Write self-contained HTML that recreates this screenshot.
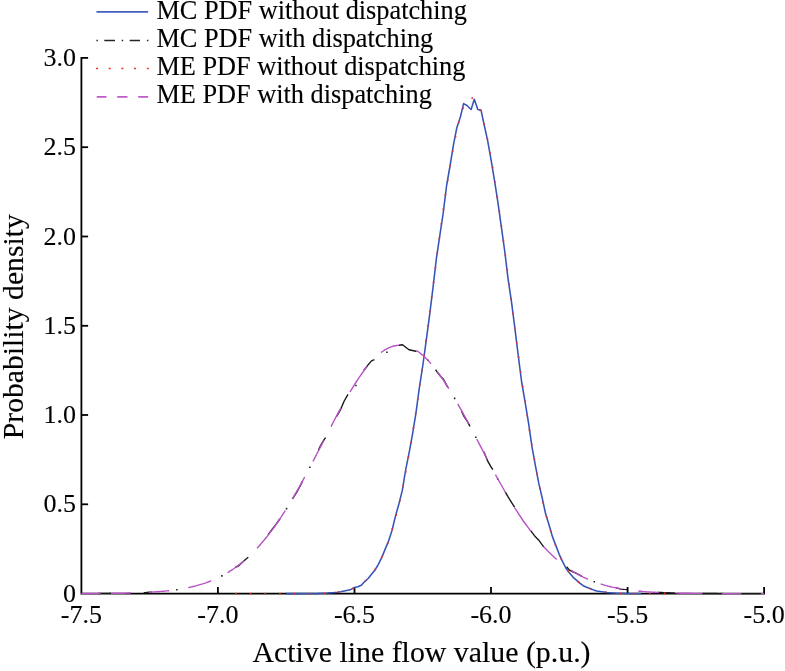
<!DOCTYPE html>
<html lang="en"><head><meta charset="utf-8"><title>PDF of active line flow</title>
<style>html,body{margin:0;padding:0;background:#fff}svg{display:block}</style></head>
<body>
<svg width="785" height="671" viewBox="0 0 785 671" style="display:block">
<rect width="785" height="671" fill="#fff"/>
<g stroke="#000" stroke-width="1.8" fill="none">
<path d="M81.4 57.0 V593.6 H765.0"/>
<path d="M81.4 504.3 H88.1"/>
<path d="M81.4 415.0 H88.1"/>
<path d="M81.4 325.8 H88.1"/>
<path d="M81.4 236.5 H88.1"/>
<path d="M81.4 147.2 H88.1"/>
<path d="M81.4 57.9 H88.1"/>
<path d="M217.9 593.6 V587.0"/>
<path d="M354.5 593.6 V587.0"/>
<path d="M491.0 593.6 V587.0"/>
<path d="M627.6 593.6 V587.0"/>
<path d="M764.1 593.6 V587.0"/>
</g>
<g fill="none" stroke-width="1.7" stroke-linejoin="round">
<path d="M286.2 593.6 L289.6 593.6 L293.0 593.6 L296.5 593.6 L299.9 593.6 L303.3 593.5 L306.7 593.5 L310.1 593.6 L313.5 593.4 L316.9 593.4 L320.3 593.3 L323.8 593.2 L327.2 593.1 L330.6 592.7 L334.0 592.5 L337.4 592.2 L340.8 591.8 L344.2 591.1 L347.7 590.3 L351.1 589.4 L354.5 587.4 L357.9 586.8 L361.3 585.3 L364.7 581.6 L368.1 578.5 L371.5 574.3 L375.0 570.0 L378.4 564.3 L381.8 557.4 L385.2 549.1 L388.6 541.0 L392.0 530.5 L395.4 516.4 L398.9 504.0 L402.3 490.4 L405.7 469.6 L409.1 452.8 L412.5 434.3 L415.9 413.4 L419.3 388.1 L422.8 365.5 L426.2 340.7 L429.6 315.2 L433.0 287.6 L436.4 258.3 L439.8 235.7 L443.2 213.2 L446.6 185.5 L450.1 165.5 L453.5 144.6 L456.9 127.4 L460.3 117.3 L463.6 103.6 L467.0 105.5 L471.1 109.5 L474.3 99.3 L477.8 109.5 L481.0 110.0 L484.2 125.1 L487.6 140.3 L491.0 159.4 L494.4 179.9 L497.8 201.6 L501.3 226.6 L504.7 251.0 L508.1 279.1 L511.5 301.8 L514.9 328.4 L518.3 356.0 L521.7 382.5 L525.2 402.6 L528.6 423.4 L532.0 446.8 L535.4 465.7 L538.8 483.4 L542.2 498.0 L545.6 513.8 L549.0 524.7 L552.5 536.9 L555.9 545.6 L559.3 554.6 L562.7 561.9 L566.1 568.5 L569.5 573.1 L572.9 577.1 L576.4 580.1 L579.8 583.1 L583.2 585.7 L586.6 587.2 L590.0 588.5 L593.4 589.9 L596.8 590.9 L600.3 591.6 L603.7 591.9 L607.1 592.4 L610.5 592.8 L613.9 592.9 L617.3 593.2 L620.7 593.3 L624.1 593.3 L627.6 593.4 L631.0 593.5 L634.4 593.5 L637.8 593.5 L641.2 593.6" stroke="#3454b8" stroke-width="1.55"/>
<path d="M98.0 593.5 L98.5 593.5 L101.9 593.4 L105.3 593.4 L108.7 593.4 L111.0 593.3 M143.7 592.6 L146.3 592.5 L149.7 592.2 L152.0 592.1 M235.2 567.3 L238.4 566.0 L241.8 562.7 L245.2 559.8 L248.3 557.3 M268.0 534.9 L269.1 533.4 L272.6 528.6 L276.0 524.4 L279.4 519.5 L280.0 518.8 M292.5 499.0 L293.0 498.1 L296.5 492.7 L299.9 486.5 L302.6 481.3 M318.5 450.1 L320.3 446.0 L323.8 440.1 L325.6 437.6 M336.4 416.7 L337.4 415.1 L340.8 409.1 L344.2 401.0 L347.7 394.9 L348.0 394.4 M363.7 370.2 L364.7 369.1 L368.1 364.9 L371.5 360.9 L374.4 359.7 M398.9 345.3 L399.1 345.3 L402.5 344.8 L409.0 349.7 L415.9 351.2 L416.5 351.5 M435.6 369.6 L436.4 371.0 L439.8 375.4 L443.2 378.9 L446.6 385.1 L447.8 387.3 M461.5 411.2 L463.7 415.8 L467.1 421.0 L470.0 426.4 M483.8 451.9 L484.2 452.4 L487.6 460.9 L491.0 466.9 L492.8 469.7 M505.4 492.1 L508.1 496.8 L511.5 502.4 L514.7 507.4 M530.8 530.9 L532.0 532.3 L535.4 536.8 L538.8 540.2 L542.2 544.9 L543.7 546.7 M566.6 566.8 L569.5 570.1 L572.9 571.8 L576.4 573.4 L579.8 575.2 L581.8 576.3 M616.0 587.9 L617.3 588.1 L620.7 589.1 L624.1 589.4 L627.2 589.6 M657.7 592.4 L658.3 592.4 L661.7 592.5 L665.1 592.9 L668.5 592.8 L671.9 593.0 L674.9 593.0 M702.4 593.4 L702.7 593.5 L706.1 593.4 L709.5 593.5 L712.9 593.5 L716.3 593.5 L719.7 593.6 L721.9 593.5 M741.4 593.6 L743.6 593.6 L747.0 593.6 L750.4 593.6 L753.9 593.6 L757.3 593.6 L760.7 593.6 L760.9 593.6" stroke="#1a1a1a" stroke-width="1.4"/>
<path d="M176.1 589.7 h1.5 M221.1 575.9 h1.5 M285.8 508.6 h1.5 M309.1 467.3 h1.5 M355.2 385.5 h1.5 M386.2 352.2 h1.5 M427.1 360.3 h1.5 M453.9 398.4 h1.5 M475.1 437.3 h1.5 M497.2 479.2 h1.5 M593.5 581.8 h1.5" stroke="#1a1a1a" stroke-width="1.6"/>
<path d="M235.0 593.6 L236.7 593.6 L238.4 593.6 L240.1 593.6 L241.8 593.6 L243.5 593.6 L245.2 593.6 L247.0 593.6 L248.7 593.6 L250.4 593.6 L252.1 593.6 L253.8 593.6 L255.5 593.6 L257.2 593.6 L258.9 593.6 L260.6 593.6 L262.3 593.6 L264.0 593.6 L265.7 593.6 L267.4 593.6 L269.1 593.6 L270.8 593.6 L272.6 593.6 L274.3 593.6 L276.0 593.6 L277.7 593.6 L279.4 593.6 L281.1 593.6 L282.8 593.6 L284.5 593.6 L286.2 593.6 L287.9 593.6 L289.6 593.6 L291.3 593.6 L293.0 593.6 L294.7 593.6 L296.5 593.6 L298.2 593.6 L299.9 593.6 L301.6 593.6 L303.3 593.6 L305.0 593.5 L306.7 593.5 L308.4 593.5 L310.1 593.5 L311.8 593.5 L313.5 593.5 L315.2 593.4 L316.9 593.4 L318.6 593.4 L320.3 593.3 L322.1 593.3 L323.8 593.2 L325.5 593.1 L327.2 593.0 L328.9 593.0 L330.6 592.8 L332.3 592.7 L334.0 592.6 L335.7 592.4 L337.4 592.2 L339.1 592.0 L340.8 591.7 L342.5 591.4 L344.2 591.1 L345.9 590.7 L347.7 590.3 L349.4 589.8 L351.1 589.2 L352.8 588.6 L354.5 587.9 L356.2 587.1 L357.9 586.2 L359.6 585.3 L361.3 584.2 L363.0 582.9 L364.7 581.6 L366.4 580.1 L368.1 578.4 L369.8 576.6 L371.5 574.5 L373.3 572.3 L375.0 569.8 L376.7 567.2 L378.4 564.2 L380.1 561.1 L381.8 557.6 L383.5 553.9 L385.2 549.8 L386.9 545.4 L388.6 540.7 L390.3 535.6 L392.0 530.2 L393.7 524.4 L395.4 518.2 L397.1 511.6 L398.9 504.6 L400.6 497.2 L402.3 489.3 L404.0 481.1 L405.7 472.4 L407.4 463.3 L409.1 453.8 L410.8 443.8 L412.5 433.5 L414.2 422.8 L415.9 411.7 L417.6 400.3 L419.3 388.5 L421.0 376.5 L422.8 364.2 L424.5 351.6 L426.2 338.8 L427.9 325.9 L429.6 312.9 L431.3 299.8 L433.0 286.6 L434.7 273.5 L436.4 260.5 L438.1 247.6 L439.8 234.9 L441.5 222.4 L443.2 210.2 L444.9 198.4 L446.6 187.0 L448.4 176.0 L450.1 165.6 L451.8 155.8 L453.5 146.6 L455.2 138.0 L456.9 130.2 L458.6 123.2 L460.3 116.9 L462.0 111.5 L463.7 107.0 L465.4 103.3 L467.1 100.6 L468.8 98.8 L470.5 98.0 L472.2 98.1 L474.0 99.1 L475.7 101.1 L477.4 104.0 L479.1 107.8 L480.8 112.5 L482.5 118.1 L484.2 124.5 L485.9 131.7 L487.6 139.7 L489.3 148.3 L491.0 157.7 L492.7 167.6 L494.4 178.2 L496.1 189.2 L497.8 200.7 L499.6 212.6 L501.3 224.9 L503.0 237.4 L504.7 250.1 L506.4 263.1 L508.1 276.1 L509.8 289.3 L511.5 302.4 L513.2 315.5 L514.9 328.5 L516.6 341.4 L518.3 354.1 L520.0 366.7 L521.7 378.9 L523.4 390.9 L525.2 402.6 L526.9 414.0 L528.6 425.0 L530.3 435.6 L532.0 445.9 L533.7 455.7 L535.4 465.1 L537.1 474.2 L538.8 482.7 L540.5 490.9 L542.2 498.7 L543.9 506.0 L545.6 512.9 L547.3 519.5 L549.0 525.6 L550.8 531.3 L552.5 536.7 L554.2 541.7 L555.9 546.3 L557.6 550.6 L559.3 554.6 L561.0 558.3 L562.7 561.7 L564.4 564.9 L566.1 567.7 L567.8 570.4 L569.5 572.8 L571.2 574.9 L572.9 576.9 L574.7 578.7 L576.4 580.4 L578.1 581.9 L579.8 583.2 L581.5 584.4 L583.2 585.5 L584.9 586.4 L586.6 587.3 L588.3 588.1 L590.0 588.7 L591.7 589.4 L593.4 589.9 L595.1 590.4 L596.8 590.8 L598.5 591.2 L600.3 591.5 L602.0 591.8 L603.7 592.0 L605.4 592.2 L607.1 592.4 L608.8 592.6 L610.5 592.7 L612.2 592.9 L613.9 593.0 L615.6 593.1 L617.3 593.1 L619.0 593.2 L620.7 593.3 L622.4 593.3 L624.1 593.4 L625.9 593.4 L627.6 593.4 L629.3 593.5 L631.0 593.5 L632.7 593.5 L634.4 593.5 L636.1 593.5 L637.8 593.5 L639.5 593.6 L641.2 593.6 L642.9 593.6 L644.6 593.6 L646.3 593.6 L648.0 593.6 L649.7 593.6 L651.5 593.6 L653.2 593.6 L654.9 593.6 L656.6 593.6 L658.3 593.6 L660.0 593.6 L661.7 593.6 L663.4 593.6 L665.1 593.6 L666.8 593.6 L668.5 593.6 L670.2 593.6 L671.9 593.6" stroke="#f03028" stroke-dasharray="1.6 13.13"/>
<path d="M81.4 593.5 L83.1 593.5 L84.8 593.5 L86.5 593.5 L88.2 593.5 L89.9 593.5 L91.6 593.5 L93.3 593.5 L95.1 593.5 L96.8 593.5 L98.5 593.5 L100.2 593.5 L100.6 593.5 M111.0 593.4 L112.1 593.3 L113.8 593.3 L115.5 593.3 L117.2 593.3 L118.9 593.3 L120.7 593.2 L122.4 593.2 L124.1 593.2 L125.8 593.1 L127.5 593.1 L129.2 593.0 L130.9 593.0 L131.0 593.0 M148.8 592.3 L149.7 592.2 L151.4 592.1 L153.1 592.0 L154.8 591.9 L156.5 591.8 L158.2 591.7 L159.9 591.5 L161.6 591.4 L163.3 591.2 L165.0 591.1 L166.7 590.9 L168.4 590.7 L169.2 590.6 M188.3 587.6 L188.9 587.5 L190.6 587.1 L192.3 586.7 L194.0 586.3 L195.8 585.9 L197.5 585.4 L199.2 584.9 L200.9 584.4 L202.6 583.9 L204.3 583.3 L206.0 582.8 L207.7 582.1 L209.4 581.5 L211.1 580.8 L211.2 580.8 M227.5 572.7 L228.2 572.3 L229.9 571.2 L231.6 570.1 L233.3 569.0 L235.0 567.8 L236.7 566.6 L238.4 565.3 L240.1 564.0 L241.8 562.6 L243.5 561.2 L244.2 560.6 M257.0 548.3 L257.2 548.1 L258.9 546.2 L260.6 544.3 L262.3 542.3 L264.0 540.3 L265.7 538.2 L267.4 536.1 L269.1 533.9 L270.8 531.6 L272.6 529.3 L274.3 527.0 L276.0 524.6 L277.7 522.1 L279.4 519.6 L281.1 517.1 L282.8 514.4 L284.5 511.8 L285.3 510.5 M292.5 498.7 L293.0 497.8 L294.7 494.9 L296.5 491.9 L298.2 488.9 L299.9 485.8 L301.6 482.7 L303.3 479.6 L304.7 477.0 M313.0 461.4 L313.5 460.4 L315.2 457.1 L316.9 453.8 L318.6 450.5 L320.3 447.2 L322.1 443.9 L323.8 440.6 L323.8 440.5 M331.0 426.6 L332.3 424.1 L334.0 420.8 L335.7 417.6 L337.4 414.4 L339.1 411.2 L340.8 408.1 M350.0 392.0 L351.1 390.2 L352.8 387.4 L354.5 384.6 L356.2 382.0 L357.9 379.4 L359.6 376.9 L361.3 374.4 L363.0 372.0 L364.7 369.7 L366.4 367.5 L367.5 366.2 M381.0 352.6 L381.8 352.0 L383.5 350.8 L385.2 349.7 L386.9 348.8 L388.6 347.9 L390.3 347.2 L392.0 346.6 L393.7 346.0 L395.4 345.7 L397.1 345.4 L398.9 345.2 L398.9 345.2 M416.5 350.6 L417.6 351.3 L419.3 352.5 L421.0 353.9 L422.8 355.3 L424.5 356.9 L426.2 358.5 L427.9 360.2 L429.6 362.1 L431.0 363.7 M437.0 371.1 L438.1 372.6 L439.8 375.0 L441.5 377.4 L443.2 379.9 L444.9 382.5 L446.6 385.1 L448.4 387.9 L448.9 388.7 M457.8 403.9 L458.6 405.3 L460.3 408.3 L462.0 411.4 L463.7 414.5 L465.4 417.7 L467.1 420.9 L468.6 423.7 M476.7 439.1 L477.4 440.3 L479.1 443.6 L480.8 446.9 L482.5 450.1 L484.2 453.4 L485.9 456.6 L487.4 459.5 M495.5 474.6 L496.1 475.8 L497.8 478.9 L499.6 482.0 L501.3 485.0 L503.0 488.0 L504.7 491.0 L505.4 492.3 M514.7 507.7 L514.9 508.1 L516.6 510.7 L518.3 513.4 L520.0 516.0 L521.7 518.5 L523.4 521.0 L525.2 523.5 L526.9 525.9 L528.6 528.2 L530.3 530.5 L530.8 531.2 M543.7 546.7 L543.9 547.0 L545.6 548.8 L547.3 550.6 L549.0 552.3 L550.8 554.0 L552.5 555.6 L554.2 557.2 L555.9 558.7 L556.7 559.4 M571.0 570.2 L571.2 570.3 L572.9 571.4 L574.7 572.5 L576.4 573.4 L578.1 574.4 L579.8 575.3 L581.5 576.2 L583.2 577.1 L584.9 577.9 L586.6 578.7 L588.0 579.3 M600.7 584.0 L602.0 584.4 L603.7 584.9 L605.4 585.4 L607.1 585.8 L608.8 586.3 L610.5 586.7 L612.2 587.1 L613.9 587.4 L615.6 587.8 L617.3 588.1 L619.0 588.4 L620.7 588.7 L621.0 588.8 M638.2 591.1 L639.5 591.2 L641.2 591.3 L642.9 591.5 L644.6 591.6 L646.3 591.8 L648.0 591.9 L649.7 592.0 L651.5 592.1 L653.2 592.2 L654.9 592.3 L656.6 592.4 L658.3 592.5 L658.8 592.5 M676.0 593.1 L677.1 593.1 L678.8 593.1 L680.5 593.2 L682.2 593.2 L683.9 593.2 L685.6 593.3 L687.3 593.3 L689.0 593.3 L690.7 593.3 L692.4 593.4 L694.1 593.4 L695.8 593.4 L697.5 593.4 L699.2 593.4 L701.0 593.4 L702.4 593.4 M721.9 593.5 L723.1 593.5 L724.8 593.6 L726.6 593.6 L728.3 593.6 L730.0 593.6 L731.7 593.6 L733.4 593.6 L735.1 593.6 L736.8 593.6 L738.5 593.6 L740.2 593.6 L741.4 593.6 M760.9 593.6 L762.4 593.6 L764.1 593.6" stroke="#b852c6" stroke-width="1.4"/>
</g>
<g fill="none" stroke-width="1.8">
<path d="M96.4 11.8 H148.1" stroke="#4260c0"/>
<path d="M96.4 40.4 h1.5 M104.3 40.4 H115 M121.7 40.4 h1.5 M129.7 40.4 H140 M146.9 40.4 h1.5" stroke="#262626" stroke-width="1.5"/>
<path d="M96 68.6 H149" stroke="#f03028" stroke-width="1.5" stroke-dasharray="2 10.7"/>
<path d="M96.7 96.9 H106.5 M117.2 96.9 H127.5 M138.2 96.9 H148.2" stroke="#c05cca" stroke-width="1.7"/>
</g>
<g font-family="'Liberation Serif', 'Times New Roman', serif" fill="#000" stroke="#000" stroke-width="0.12" font-size="26">
<text x="156.4" y="19.1" font-size="26.3">MC PDF without dispatching</text>
<text x="156.4" y="47.2" font-size="26.3">MC PDF with dispatching</text>
<text x="156.4" y="75.3" font-size="26.3">ME PDF without dispatching</text>
<text x="156.4" y="103.4" font-size="26.3">ME PDF with dispatching</text>
<text x="76" y="601.6" text-anchor="end">0</text>
<text x="76" y="512.3" text-anchor="end">0.5</text>
<text x="76" y="423.0" text-anchor="end">1.0</text>
<text x="76" y="333.8" text-anchor="end">1.5</text>
<text x="76" y="244.5" text-anchor="end">2.0</text>
<text x="76" y="155.2" text-anchor="end">2.5</text>
<text x="76" y="65.9" text-anchor="end">3.0</text>
<text x="81.4" y="622.8" text-anchor="middle">-7.5</text>
<text x="217.9" y="622.8" text-anchor="middle">-7.0</text>
<text x="354.5" y="622.8" text-anchor="middle">-6.5</text>
<text x="491.0" y="622.8" text-anchor="middle">-6.0</text>
<text x="627.6" y="622.8" text-anchor="middle">-5.5</text>
<text x="764.1" y="622.8" text-anchor="middle">-5.0</text>
</g>
<g font-family="'Liberation Serif', 'Times New Roman', serif" fill="#000" stroke="#000" stroke-width="0.12" font-size="29.7">
<text x="421.5" y="662" text-anchor="middle" font-size="29.85">Active line flow value (p.u.)</text>
<text transform="translate(22.5 326.7) rotate(-90)" text-anchor="middle">Probability density</text>
</g>
</svg>
</body></html>
